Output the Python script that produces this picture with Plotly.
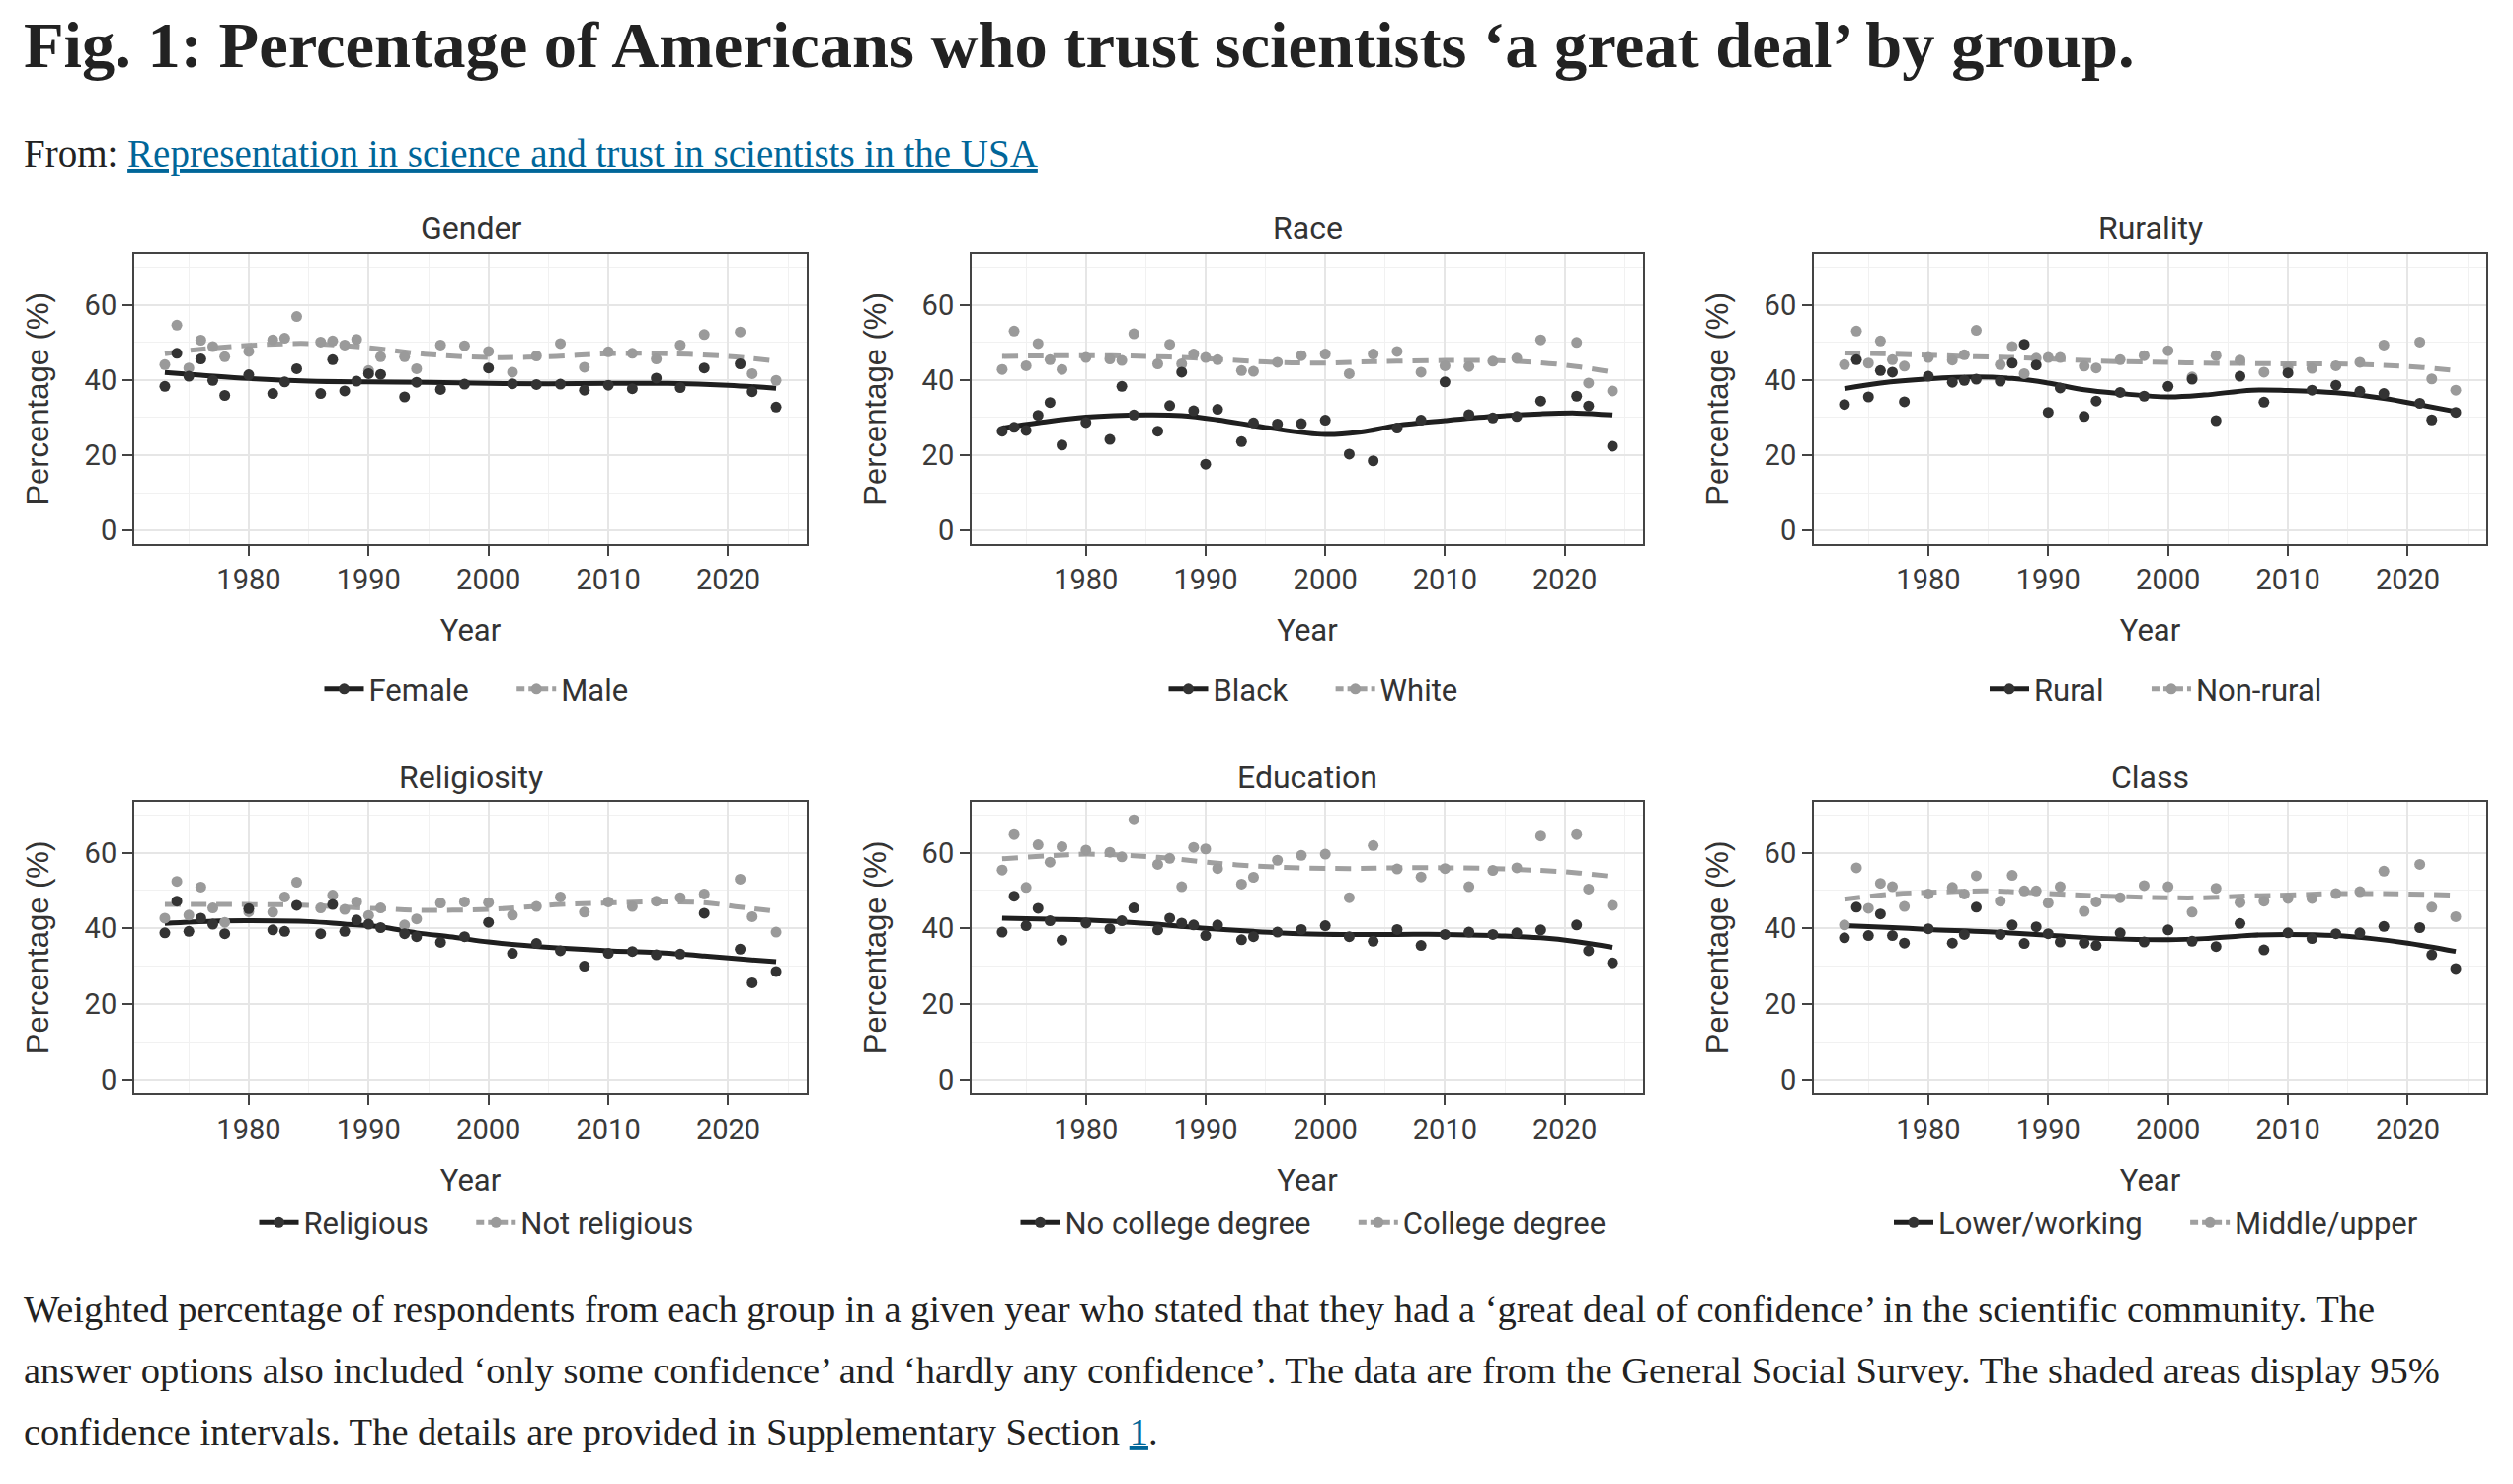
import plotly.graph_objects as go

W, H = 2545, 1503

years = [1973, 1974, 1975, 1976, 1977, 1978, 1980, 1982, 1983, 1984, 1986, 1987, 1988, 1989,
         1990, 1991, 1993, 1994, 1996, 1998, 2000, 2002, 2004, 2006, 2008, 2010, 2012, 2014,
         2016, 2018, 2021, 2022, 2024]

# ---- Gender ----
female = [38.3, 47.1, 41.0, 45.6, 39.9, 35.9, 41.4, 36.4, 39.5, 43.0, 36.4, 45.4, 37.1, 39.7,
          41.7, 41.5, 35.5, 39.4, 37.5, 38.9, 43.2, 39.0, 38.8, 38.9, 37.3, 38.6, 37.7, 40.5,
          38.0, 43.2, 44.3, 36.9, 32.8]
male = [44.1, 54.6, 43.2, 50.6, 48.9, 46.2, 47.6, 50.7, 51.1, 56.9, 50.1, 50.4, 49.3, 50.8,
        42.5, 46.2, 46.2, 43.0, 49.3, 49.1, 47.6, 42.1, 46.4, 49.7, 43.4, 47.5, 47.1, 45.6,
        49.3, 52.1, 52.8, 41.7, 39.9]
# ---- Race ----
black = [26.4, 27.4, 26.6, 30.6, 34.0, 22.7, 28.7, 24.2, 38.3, 30.7, 26.4, 33.2, 42.1, 31.8,
         17.6, 32.2, 23.6, 28.6, 28.3, 28.4, 29.3, 20.3, 18.5, 27.2, 29.3, 39.5, 30.8, 29.9,
         30.3, 34.4, 35.7, 33.1, 22.4]
white = [42.8, 53.0, 43.8, 49.7, 45.4, 42.8, 46.0, 45.6, 45.2, 52.3, 44.3, 49.5, 44.3, 46.9,
         46.0, 45.4, 42.5, 42.3, 44.7, 46.5, 46.9, 41.7, 46.9, 47.6, 42.1, 43.8, 43.6, 45.0,
         45.8, 50.7, 50.0, 39.2, 37.1]
# ---- Rurality ----
rural = [33.5, 45.4, 35.5, 42.5, 42.1, 34.2, 41.0, 39.4, 39.9, 40.2, 39.7, 44.5, 49.5, 44.0,
         31.4, 37.9, 30.3, 34.4, 36.7, 35.7, 38.3, 40.2, 29.2, 41.0, 34.1, 41.9, 37.3, 38.6,
         37.0, 36.4, 33.8, 29.4, 31.4]
nonrural = [44.1, 53.0, 44.5, 50.4, 45.4, 43.7, 46.0, 45.3, 46.7, 53.2, 44.1, 48.9, 41.7, 45.8,
            46.0, 46.0, 43.7, 43.2, 45.4, 46.5, 47.8, 40.8, 46.5, 45.3, 42.1, 43.4, 43.1, 43.8,
            44.7, 49.3, 50.1, 40.3, 37.3]
# ---- Religiosity ----
religious = [38.8, 47.2, 39.2, 42.7, 41.1, 38.6, 45.2, 39.6, 39.2, 46.1, 38.6, 46.3, 39.2, 42.2,
             41.1, 40.2, 38.6, 37.8, 36.3, 37.8, 41.6, 33.4, 36.0, 34.1, 30.0, 33.4, 33.9, 33.0,
             33.2, 44.0, 34.5, 25.6, 28.6]
notreligious = [42.7, 52.4, 43.5, 50.9, 45.4, 41.6, 44.4, 44.3, 48.3, 52.2, 45.4, 48.8, 45.0, 47.0,
                43.4, 45.4, 40.9, 42.5, 46.7, 47.0, 46.8, 43.5, 45.8, 48.3, 44.3, 47.0, 45.8, 47.2,
                48.1, 49.1, 53.0, 43.1, 39.0]
# ---- Education ----
nocollege = [39.0, 48.5, 40.7, 45.3, 42.0, 36.9, 41.4, 39.9, 42.0, 45.4, 39.6, 42.7, 41.4, 40.9,
             38.1, 40.9, 37.0, 37.8, 39.0, 39.7, 40.7, 37.8, 36.6, 39.7, 35.5, 38.4, 39.0, 38.4,
             38.8, 39.6, 40.9, 34.1, 30.9]
college = [55.4, 64.8, 50.8, 62.1, 57.5, 61.6, 60.7, 60.1, 58.9, 68.7, 56.9, 58.5, 51.0, 61.4,
           61.0, 55.8, 51.7, 53.5, 58.0, 59.3, 59.6, 48.1, 61.9, 55.7, 53.6, 55.8, 51.0, 55.3,
           56.0, 64.4, 64.8, 50.4, 46.1]
# ---- Class ----
lower = [37.5, 45.6, 38.1, 43.8, 38.1, 36.1, 39.9, 36.1, 38.4, 45.6, 38.4, 40.9, 36.0, 40.4,
         38.6, 36.4, 36.1, 35.5, 38.8, 36.4, 39.6, 36.6, 35.2, 41.3, 34.3, 38.8, 37.3, 38.6,
         38.8, 40.5, 40.2, 33.0, 29.4]
middle = [40.9, 56.0, 45.3, 51.9, 51.0, 45.8, 49.1, 50.8, 49.1, 53.9, 47.2, 54.0, 49.9, 49.9,
          46.7, 51.0, 44.5, 47.0, 48.1, 51.3, 51.0, 44.3, 50.6, 46.8, 47.2, 47.9, 47.9, 49.2,
          49.7, 55.1, 56.9, 45.6, 43.1]

# ---- smoothed trends ----
trend_years_gender = [1973, 1976, 1980, 1985, 1990, 1995, 2000, 2005, 2010, 2015, 2020, 2024]
female_trend = [42.0, 41.3, 40.4, 39.7, 39.5, 39.4, 39.1, 39.0, 39.1, 39.1, 38.6, 37.8]
male_trend = [47.0, 48.2, 49.2, 49.7, 48.6, 46.8, 46.0, 46.2, 47.0, 47.0, 46.3, 45.0]

trend_years_race = [1973, 1976, 1980, 1985, 1988, 1991, 1995, 2000, 2003, 2006, 2010, 2014, 2018, 2021, 2024]
black_trend = [27.2, 28.6, 30.1, 30.7, 30.5, 29.4, 27.4, 25.5, 26.2, 27.9, 29.2, 30.3, 31.0, 31.2, 30.7]
white_trend = [46.3, 46.4, 46.5, 46.3, 46.0, 45.5, 44.8, 44.5, 44.8, 45.0, 45.2, 45.2, 44.6, 43.6, 42.1]

trend_years_rural = [1973, 1976, 1980, 1984, 1987, 1990, 1993, 1996, 2000, 2003, 2007, 2010, 2014, 2018, 2021, 2024]
rural_trend = [37.7, 39.2, 40.3, 40.8, 40.4, 39.2, 37.4, 36.4, 35.5, 36.0, 37.3, 37.2, 36.6, 35.1, 33.4, 31.6]
nonrural_trend = [47.2, 47.0, 46.6, 46.2, 46.0, 45.6, 45.2, 44.9, 44.7, 44.5, 44.4, 44.3, 44.3, 43.9, 43.4, 42.5]

trend_years_relig = [1973, 1977, 1980, 1985, 1988, 1991, 1994, 1997, 2000, 2003, 2006, 2010, 2014, 2018, 2021, 2024]
religious_trend = [41.3, 41.9, 42.0, 41.8, 41.1, 40.4, 38.8, 37.7, 36.4, 35.5, 34.8, 34.1, 33.6, 32.7, 31.9, 31.2]
notreligious_trend = [46.3, 46.3, 46.3, 46.1, 45.6, 45.2, 44.8, 44.8, 45.0, 45.6, 46.3, 46.7, 47.0, 46.8, 45.6, 44.5]

trend_years_edu = [1973, 1977, 1980, 1984, 1987, 1990, 1994, 1998, 2002, 2006, 2010, 2014, 2018, 2021, 2024]
nocollege_trend = [42.7, 42.4, 42.2, 41.5, 40.8, 40.0, 39.2, 38.6, 38.4, 38.4, 38.4, 38.1, 37.5, 36.5, 35.0]
college_trend = [58.4, 59.2, 59.6, 59.2, 58.5, 57.5, 56.5, 56.0, 55.8, 56.0, 56.0, 55.8, 55.3, 54.7, 53.7]

trend_years_class = [1973, 1977, 1980, 1985, 1990, 1995, 2000, 2003, 2007, 2010, 2014, 2017, 2020, 2024]
lower_trend = [40.7, 40.2, 39.7, 39.1, 38.2, 37.3, 37.0, 37.3, 38.2, 38.4, 38.1, 37.3, 36.1, 33.9]
middle_trend = [47.7, 49.1, 49.5, 49.9, 49.2, 48.5, 48.1, 48.1, 48.6, 48.8, 49.2, 49.2, 49.1, 48.8]

panels = [
    ("Gender", "Female", "Male", female, male, trend_years_gender, female_trend, male_trend),
    ("Race", "Black", "White", black, white, trend_years_race, black_trend, white_trend),
    ("Rurality", "Rural", "Non-rural", rural, nonrural, trend_years_rural, rural_trend, nonrural_trend),
    ("Religiosity", "Religious", "Not religious", religious, notreligious, trend_years_relig, religious_trend, notreligious_trend),
    ("Education", "No college degree", "College degree", nocollege, college, trend_years_edu, nocollege_trend, college_trend),
    ("Class", "Lower/working", "Middle/upper", lower, middle, trend_years_class, lower_trend, middle_trend),
]

y_ticks = [0, 20, 40, 60]
y_minor = [10, 30, 50, 70]
x_ticks = [1980, 1990, 2000, 2010, 2020]
x_minor = [1975, 1985, 1995, 2005, 2015, 2025]

# layout geometry in pixels
col_px = [(136, 817), (984, 1664), (1837, 2518)]
row_px = [(258, 552), (814, 1110)]
title_py = [232, 789]
legend_py = [700, 1242]

DARK = "#333333"
LINE_DARK = "#1f1f1f"
GRAY = "#9a9a9a"
LINE_GRAY = "#a0a0a0"
TICKFONT = "Roboto"
NBSP = "\u00a0"

fig = go.Figure()
annotations = []

for i, (ptitle, g1, g2, v1, v2, ty, t1, t2) in enumerate(panels):
    r, c = divmod(i, 3)
    n = i + 1
    xa = "x" if n == 1 else f"x{n}"
    ya = "y" if n == 1 else f"y{n}"
    lg = "legend" if n == 1 else f"legend{n}"
    x0, x1 = col_px[c]
    y0, y1 = row_px[r]
    xdom = [x0 / W, x1 / W]
    ydom = [1 - y1 / H, 1 - y0 / H]

    axcommon = dict(showline=True, linecolor="#444444", linewidth=2, mirror=True,
                    ticks="outside", ticklen=10, tickwidth=2, tickcolor="#444444",
                    showgrid=True, gridcolor="#e6e6e6", gridwidth=2, zeroline=False,
                    tickfont=dict(family=TICKFONT, size=29, color="#3a3a3a"))
    fig.layout[f"xaxis{'' if n == 1 else n}"] = dict(
        domain=xdom, anchor=ya, range=[1970.45, 2026.55], tickvals=x_ticks,
        minor=dict(tickvals=x_minor, showgrid=True, gridcolor="#f1f1f1", gridwidth=1),
        title=dict(text="Year", font=dict(family=TICKFONT, size=31, color="#333333"), standoff=24),
        **axcommon)
    fig.layout[f"yaxis{'' if n == 1 else n}"] = dict(
        domain=ydom, anchor=xa, range=[-3.5, 73.5], tickvals=y_ticks,
        minor=dict(tickvals=y_minor, showgrid=True, gridcolor="#f1f1f1", gridwidth=1),
        title=dict(text="Percentage (%)", font=dict(family="Liberation Sans", size=31, color="#333333"), standoff=27),
        **axcommon)

    # smoothed trend lines
    fig.add_trace(go.Scatter(x=ty, y=t2, mode="lines", line=dict(color=LINE_GRAY, width=5, dash="16px,10px", shape="spline"),
                             xaxis=xa, yaxis=ya, showlegend=False, hoverinfo="skip"))
    fig.add_trace(go.Scatter(x=ty, y=t1, mode="lines", line=dict(color=LINE_DARK, width=5, shape="spline"),
                             xaxis=xa, yaxis=ya, showlegend=False, hoverinfo="skip"))
    # points
    fig.add_trace(go.Scatter(x=years, y=v2, mode="markers", marker=dict(color=GRAY, size=11),
                             xaxis=xa, yaxis=ya, showlegend=False))
    fig.add_trace(go.Scatter(x=years, y=v1, mode="markers", marker=dict(color=DARK, size=11),
                             xaxis=xa, yaxis=ya, showlegend=False))
    # legend entries
    fig.add_trace(go.Scatter(x=[None], y=[None], mode="lines+markers", name=g1 + NBSP * 5,
                             line=dict(color=LINE_DARK, width=5), marker=dict(color=DARK, size=11),
                             xaxis=xa, yaxis=ya, legend=lg))
    fig.add_trace(go.Scatter(x=[None], y=[None], mode="lines+markers", name=g2,
                             line=dict(color=LINE_GRAY, width=5, dash="8px,4px"), marker=dict(color=GRAY, size=11),
                             xaxis=xa, yaxis=ya, legend=lg))

    fig.layout[lg] = dict(orientation="h", x=(x0 + x1) / 2 / W + 6 / W, xanchor="center",
                          y=1 - legend_py[r] / H, yanchor="middle",
                          font=dict(family=TICKFONT, size=31, color="#333333"),
                          bgcolor="rgba(0,0,0,0)", itemwidth=40, traceorder="normal")

    annotations.append(dict(text=ptitle, x=(x0 + x1) / 2 / W, y=1 - title_py[r] / H,
                            xref="paper", yref="paper", xanchor="center", yanchor="middle",
                            showarrow=False, font=dict(family=TICKFONT, size=32, color="#333333")))

SERIF = "Liberation Serif"
annotations.append(dict(
    text="<b>Fig. 1: Percentage of Americans who trust scientists ‘a great deal’ by group.</b>",
    x=22 / W, y=1 - 46 / H, xref="paper", yref="paper", xanchor="left", yanchor="middle",
    showarrow=False, font=dict(family=SERIF, size=66.5, color="#222222")))
annotations.append(dict(
    text="From: <span style='color:#006699'><u>Representation in science and trust in scientists in the USA</u></span>",
    x=22 / W, y=1 - 156 / H, xref="paper", yref="paper", xanchor="left", yanchor="middle",
    showarrow=False, font=dict(family=SERIF, size=39, color="#222222")))

caption_lines = [
    "Weighted percentage of respondents from each group in a given year who stated that they had a ‘great deal of confidence’ in the scientific community. The",
    "answer options also included ‘only some confidence’ and ‘hardly any confidence’. The data are from the General Social Survey. The shaded areas display 95%",
    "confidence intervals. The details are provided in Supplementary Section <span style='color:#006699'><u>1</u></span>.",
]
caption_py = [1330, 1392, 1454]
for line, py in zip(caption_lines, caption_py):
    annotations.append(dict(text=line, x=22 / W, y=1 - py / H, xref="paper", yref="paper",
                            xanchor="left", yanchor="middle", showarrow=False,
                            font=dict(family=SERIF, size=38.5, color="#222222")))

fig.update_layout(width=W, height=H, margin=dict(l=0, r=0, t=0, b=0),
                  paper_bgcolor="white", plot_bgcolor="white",
                  annotations=annotations)

fig.write_html("out.html")
